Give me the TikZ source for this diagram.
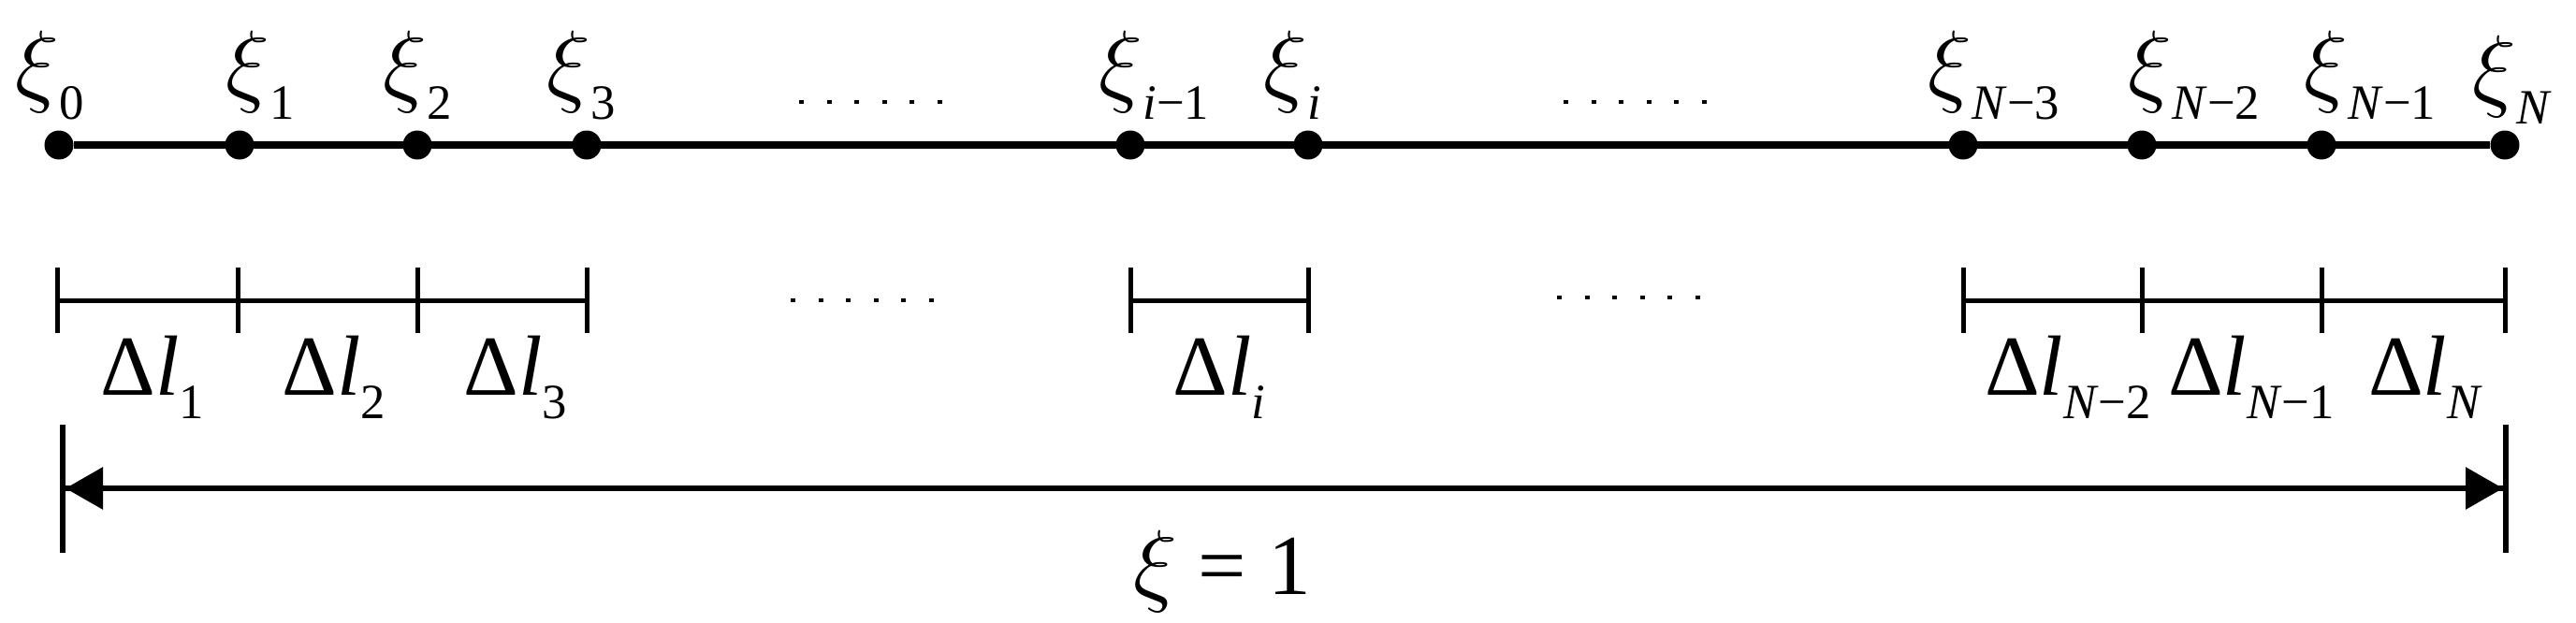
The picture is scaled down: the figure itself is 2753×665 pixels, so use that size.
\RequirePackage{fix-cm}
\documentclass[tikz,border=0pt]{standalone}
\usepackage{fontspec}
\setmainfont{Liberation Serif}
\usetikzlibrary{arrows.meta}
\newcommand{\xisub}[1]{$\xi$\rlap{\raisebox{-2.6mm}{\fontsize{15}{15}\selectfont #1}}}
\newcommand{\dlsub}[1]{Δ\textit{l}\raisebox{-2.5mm}{\fontsize{15}{15}\selectfont #1}}
\tikzset{
    gridpt/.style={circle, fill=black, inner sep=0pt, minimum size=3.1mm},
    ptlabel/.style={anchor=base, inner sep=0pt, font=\fontsize{28}{30}\selectfont},
    seglabel/.style={anchor=base, inner sep=0pt, font=\fontsize{26}{30}\selectfont},
    axisline/.style={line width=0.75mm},
    segline/.style={{Bar[width=7mm]}-{Bar[width=7mm]}, line width=0.5mm, shorten <=-0.25mm, shorten >=-0.25mm},
    spanline/.style={{Bar[width=13.7mm]Triangle[length=4mm, width=4.4mm]}-{Triangle[length=4mm, width=4.4mm]Bar[width=13.7mm]}, line width=0.6mm},
    dotrow/.style={line width=0.45mm, dash pattern=on 0.5mm off 2.46mm}
}
\begin{document}
\begin{tikzpicture}[x=0.1mm, y=-0.1mm]
    \useasboundingbox (0,0) rectangle (2753,665);

    % Grid points
    \node[gridpt] (p0) at (63,155) {};
    \node[gridpt] (p1) at (256,155) {};
    \node[gridpt] (p2) at (446,155) {};
    \node[gridpt] (p3) at (627,155) {};
    \node[gridpt] (pim) at (1208,155) {};
    \node[gridpt] (pi) at (1398,155) {};
    \node[gridpt] (pn3) at (2098,155) {};
    \node[gridpt] (pn2) at (2289,155) {};
    \node[gridpt] (pn1) at (2481,155) {};
    \node[gridpt] (pn) at (2677,155) {};

    % Point labels
    \node[ptlabel] (x0) at (40,101) {\xisub{0}};
    \node[ptlabel] (x1) at (265,101) {\xisub{1}};
    \node[ptlabel] (x2) at (433,101) {\xisub{2}};
    \node[ptlabel] (x3) at (608,101) {\xisub{3}};
    \node[ptlabel] (xim) at (1198,101) {\xisub{\textit{i}−1}};
    \node[ptlabel] (xi) at (1374,101) {\xisub{\textit{i}}};
    \node[ptlabel] (xn3) at (2084,101) {\xisub{\textit{N}−3}};
    \node[ptlabel] (xn2) at (2298,101) {\xisub{\textit{N}−2}};
    \node[ptlabel] (xn1) at (2486,101) {\xisub{\textit{N}−1}};
    \node[ptlabel] (xn) at (2666,106) {\xisub{\textit{N}}};

    % Segment ends
    \coordinate (s0) at (61,321);
    \coordinate (s1) at (254,321);
    \coordinate (s2) at (446,321);
    \coordinate (s3) at (627,321);
    \coordinate (sim) at (1208,321);
    \coordinate (si) at (1398,321);
    \coordinate (sn3) at (2098,321);
    \coordinate (sn2) at (2289,321);
    \coordinate (sn1) at (2481,321);
    \coordinate (sn) at (2677,321);

    % Segment labels
    \node[seglabel] (d1) at (163,422) {\dlsub{1}};
    \node[seglabel] (d2) at (357,422) {\dlsub{2}};
    \node[seglabel] (d3) at (551,422) {\dlsub{3}};
    \node[seglabel] (di) at (1303,422) {\dlsub{\textit{i}}};
    \node[seglabel] (dn2) at (2210,422) {\dlsub{\textit{N}−2}};
    \node[seglabel] (dn1) at (2406,422) {\dlsub{\textit{N}−1}};
    \node[seglabel] (dn) at (2592,422) {\dlsub{\textit{N}}};

    % Ellipsis rows
    \coordinate (e1a) at (854,109);  \coordinate (e1b) at (1008,109);
    \coordinate (e2a) at (1671,109); \coordinate (e2b) at (1825,109);
    \coordinate (e3a) at (845,321);  \coordinate (e3b) at (999,321);
    \coordinate (e4a) at (1664,318); \coordinate (e4b) at (1818,318);

    % Total length
    \coordinate (a0) at (64,522);
    \coordinate (a1) at (2681,522);
    \node[seglabel] (tot) at (1306,635) {{\fontsize{28}{30}\selectfont$\xi$} = 1};

    % Paths
    \draw[axisline] (p0) -- (pn);
    \draw[segline] (s0) -- (s1);
    \draw[segline] (s1) -- (s2);
    \draw[segline] (s2) -- (s3);
    \draw[segline] (sim) -- (si);
    \draw[segline] (sn3) -- (sn2);
    \draw[segline] (sn2) -- (sn1);
    \draw[segline] (sn1) -- (sn);
    \draw[dotrow] (e1a) -- (e1b);
    \draw[dotrow] (e2a) -- (e2b);
    \draw[dotrow] (e3a) -- (e3b);
    \draw[dotrow] (e4a) -- (e4b);
    \draw[spanline] (a0) -- (a1);
\end{tikzpicture}
\end{document}
